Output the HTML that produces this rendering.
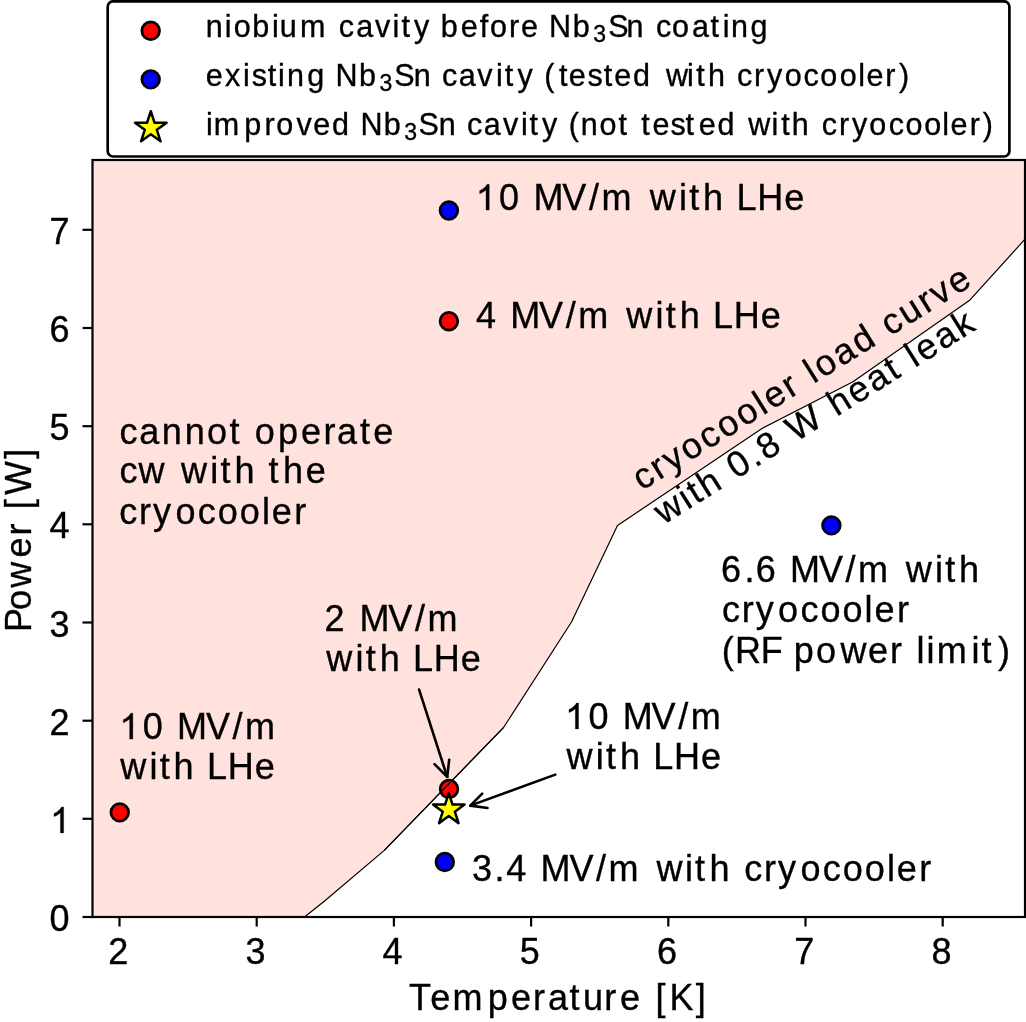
<!DOCTYPE html>
<html><head><meta charset="utf-8"><style>
html,body{margin:0;padding:0;background:#fff;width:1026px;height:1022px;overflow:hidden}
svg{display:block;will-change:transform}
text{font-family:"Liberation Sans",sans-serif;fill:#000;stroke:#000;stroke-width:0.35px}
</style></head><body>
<svg width="1026" height="1022" viewBox="0 0 1026 1022">
<defs><path id="one" stroke="#000" stroke-width="0.35" d="M13.41 0L10.25 0L10.25 -20.16Q9.11 -19.07 7.24 -17.98Q5.38 -16.89 3.9 -16.35L3.9 -19.41Q6.56 -20.65 8.54 -22.43Q10.53 -24.2 11.36 -25.87L13.41 -25.87Z"/></defs>
<!-- pink region -->
<polygon fill="#FFE2DE" points="92.5,160 1025,160 1025,239.2 970,299.9 853,381.8 762,428.5 617.5,525.5 571.5,622 503.7,727.3 384.3,850.4 324.3,901.3 304.5,917 92.5,917"/>
<!-- load curve -->
<polyline fill="none" stroke="#000" stroke-width="1.2" stroke-linejoin="round" points="304.5,917 324.3,901.3 384.3,850.4 503.7,727.3 571.5,622 617.5,525.5 762,428.5 853,381.8 970,299.9 1025,239.2"/>
<!-- frame -->
<rect x="92.5" y="160" width="932.5" height="757" fill="none" stroke="#000" stroke-width="2.2"/>
<!-- y ticks -->
<g stroke="#000" stroke-width="2.2">
<line x1="82.5" y1="917" x2="92.5" y2="917"/>
<line x1="82.5" y1="818.8" x2="92.5" y2="818.8"/>
<line x1="82.5" y1="720.7" x2="92.5" y2="720.7"/>
<line x1="82.5" y1="622.5" x2="92.5" y2="622.5"/>
<line x1="82.5" y1="524.3" x2="92.5" y2="524.3"/>
<line x1="82.5" y1="426.2" x2="92.5" y2="426.2"/>
<line x1="82.5" y1="328" x2="92.5" y2="328"/>
<line x1="82.5" y1="229.8" x2="92.5" y2="229.8"/>
<!-- x ticks -->
<line x1="119.5" y1="917" x2="119.5" y2="926.5"/>
<line x1="256.7" y1="917" x2="256.7" y2="926.5"/>
<line x1="393.9" y1="917" x2="393.9" y2="926.5"/>
<line x1="531.1" y1="917" x2="531.1" y2="926.5"/>
<line x1="668.3" y1="917" x2="668.3" y2="926.5"/>
<line x1="805.5" y1="917" x2="805.5" y2="926.5"/>
<line x1="942.7" y1="917" x2="942.7" y2="926.5"/>
</g>
<!-- y tick labels -->
<g font-size="36" text-anchor="end">
<text x="69.5" y="931.1">0</text>

<text x="69.5" y="734.8">2</text>
<text x="69.5" y="636.6">3</text>
<text x="69.5" y="538.4">4</text>
<text x="69.5" y="440.3">5</text>
<text x="69.5" y="342.1">6</text>
<text x="69.5" y="243.9">7</text>
</g>
<use href="#one" transform="translate(50.2,832.9)"/>
<!-- x tick labels -->
<g font-size="36" text-anchor="middle">
<text x="118.2" y="964">2</text>
<text x="255.4" y="964">3</text>
<text x="392.6" y="964">4</text>
<text x="529.8" y="964">5</text>
<text x="667.0" y="964">6</text>
<text x="804.2" y="964">7</text>
<text x="941.4" y="964">8</text>
</g>
<!-- axis labels -->
<text x="408.9 430.3 452.5 487.7 511.1 532.9 547.9 569.5 582.9 604.2 619.9 639.9 655.5 669.6 695.7" y="1009.9" font-size="36">Temperature [K]</text>
<text transform="translate(30.9,0) rotate(-90)" x="-632.0 -610.0 -587.8 -557.4 -535.4 -523.4 -509.2 -495.1 -458.8" y="0" font-size="36">Power [W]</text>

<!-- annotations -->
<g font-size="36">
<use href="#one" transform="translate(475.8,210.1)"/>
<text x="499.1 519.1 533.4 562.3 589.0 601.5 631.5 649.7 678.9 689.2 703.1 723.1 736.5 757.2 784.2" y="210.1">0 MV/m with LHe</text>
<text x="476.1 496.1 510.2 539.1 565.8 578.3 608.3 626.3 655.5 665.8 679.7 699.7 713.1 733.8 760.8" y="328">4 MV/m with LHe</text>
<text x="119.5 139.3 161.8 184.7 207.1 229.5 239.5 254.8 277.9 301.0 323.6 337.1 360.1 373.2" y="443.6">cannot operate</text>
<text x="119.5 138.6 164.6 180.9 210.3 220.6 234.6 254.6 268.5 282.9 305.7" y="483.3">cw with the</text>
<text x="119.3 139.1 153.1 175.4 197.7 217.8 239.8 261.9 271.8 294.3" y="523.5">cryocooler</text>
<text x="721.1 744.4 755.7 775.7 790.0 818.9 845.6 858.1 888.1 905.7 934.9 945.2 959.1" y="581.7">6.6 MV/m with</text>
<text x="722.0 741.8 755.8 778.1 800.4 820.5 842.5 864.6 874.5 897.0" y="621.8">cryocooler</text>
<text x="721.8 735.0 760.8 782.8 793.7 815.9 840.4 868.0 890.0 902.0 916.4 926.6 936.8 971.4 981.6 998.0" y="663.4">(RF power limit)</text>
<text x="324.4 344.4 359.4 388.3 415.0 427.5" y="631">2 MV/m</text>
<text x="326.3 355.5 365.8 379.7 399.7 413.1 433.8 460.8" y="671.1">with LHe</text>
<use href="#one" transform="translate(119.4,739.1)"/>
<text x="142.7 162.7 177.0 205.9 232.6 245.1" y="739.1">0 MV/m</text>
<text x="120.2 149.4 159.7 173.6 193.6 207.0 227.7 254.7" y="779.1">with LHe</text>
<use href="#one" transform="translate(565.1,728.9)"/>
<text x="588.4 608.4 622.7 651.6 678.3 690.8" y="728.9">0 MV/m</text>
<text x="566.5 595.7 606.0 619.9 639.9 653.3 674.0 701.0" y="768.7">with LHe</text>
<text x="472.0 494.4 506.2 526.2 540.5 569.4 596.1 608.6 638.6 656.5 685.0 695.1 709.4 729.4 744.3 764.1 778.1 800.4 822.7 842.8 864.8 886.9 896.8 919.3" y="881.4">3.4 MV/m with cryocooler</text>
</g>
<!-- rotated labels -->
<g font-size="36" letter-spacing="2.4">
<text transform="translate(641.7,491) rotate(-31.9)">cryocooler load curve</text>
<text transform="translate(663.4,525.1) rotate(-32)">with 0.8 W heat leak</text>
</g>

<!-- arrows -->
<g stroke="#000" stroke-width="2.6" fill="none" stroke-linecap="round" stroke-linejoin="round">
<line x1="419.1" y1="689.6" x2="447.2" y2="776.9"/>
<polyline points="434.5,764.1 447.2,776.9 449.2,759.7"/>
<line x1="555.3" y1="774.6" x2="470.3" y2="805.6"/>
<polyline points="482.2,793.7 470.3,805.6 487.5,808"/>
</g>

<!-- data points -->
<g stroke="#000" stroke-width="2.7">
<circle cx="448.9" cy="210.5" r="8.85" fill="#0000FF"/>
<circle cx="448.9" cy="321.3" r="8.85" fill="#FF0000"/>
<circle cx="831.4" cy="525.4" r="8.85" fill="#0000FF"/>
<circle cx="119.75" cy="812.4" r="8.85" fill="#FF0000"/>
<circle cx="444.8" cy="862" r="8.85" fill="#0000FF"/>
<circle cx="449" cy="789" r="8.85" fill="#FF0000"/>
</g>
<!-- curve over red circle -->
<line x1="384.3" y1="850.4" x2="503.7" y2="727.3" stroke="#000" stroke-width="1.2"/>
<g stroke="#000" stroke-width="2.5" stroke-linejoin="round" fill="#FFFF00">
<polygon points="448.80,793.10 452.53,804.57 464.59,804.57 454.83,811.66 458.56,823.13 448.80,816.04 439.04,823.13 442.77,811.66 433.01,804.57 445.07,804.57"/>
</g>

<!-- legend -->
<rect x="107.7" y="1.3" width="901.7" height="155.2" rx="5.5" ry="5.5" fill="#fff" stroke="#000" stroke-width="2.7"/>
<g stroke="#000" stroke-width="2.7">
<circle cx="150.7" cy="30.7" r="8.85" fill="#FF0000"/>
<circle cx="150.7" cy="79.4" r="8.85" fill="#0000FF"/>
</g>
<g stroke="#000" stroke-width="2.5" stroke-linejoin="round" fill="#FFFF00">
<polygon points="150.80,111.25 154.53,122.72 166.59,122.72 156.83,129.81 160.56,141.28 150.80,134.19 141.04,141.28 144.77,129.81 135.01,122.72 147.07,122.72"/>
</g>
<g font-size="30.5">
<text x="205.8 224.8 233.8 252.3 272.1 279.8 299.9 325.3 338.8 356.2 374.9 392.4 401.5 414.0 429.3 440.7 460.8 479.8 490.0 509.0 521.1 538.1 549.0 572.7 593.3 608.2 626.4 643.3 655.9 672.0 692.1 710.5 722.8 731.0 750.5" y="36.8">niobium cavity before Nb<tspan font-size="23" dy="5">3</tspan><tspan dy="-5">Sn coating</tspan></text>
<text x="205.7 224.9 242.9 251.7 267.7 278.0 287.1 307.3 324.3 335.6 358.9 379.4 394.3 413.8 430.7 442.0 458.7 477.3 496.0 504.8 517.5 532.8 544.2 559.1 568.8 587.4 603.7 614.3 633.1 650.1 665.9 687.0 696.3 708.1 725.0 737.0 754.0 767.1 784.7 803.5 820.3 839.7 858.3 866.5 885.2 899.1" y="85.7">existing Nb<tspan font-size="23" dy="5">3</tspan><tspan dy="-5">Sn cavity (tested with cryocooler)</tspan></text>
<text x="206.0 213.8 244.2 264.4 276.2 296.4 313.3 332.1 349.1 360.4 383.7 404.2 418.5 438.8 455.7 466.9 483.7 502.9 521.0 529.5 542.0 557.3 568.8 580.8 599.6 618.5 627.0 641.3 652.5 670.5 685.5 698.8 717.6 734.6 748.2 771.6 781.3 791.8 808.7 821.7 838.9 852.1 869.2 888.7 905.6 924.3 942.2 950.6 969.8 982.7" y="134.6">improved Nb<tspan font-size="23" dy="5">3</tspan><tspan dy="-5">Sn cavity (not tested with cryocooler)</tspan></text>
</g>
</svg>
</body></html>
